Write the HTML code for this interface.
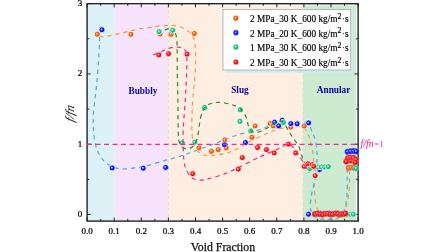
<!DOCTYPE html><html><head><meta charset="utf-8"><style>html,body{margin:0;padding:0;background:#fff;width:448px;height:252px;overflow:hidden}svg{display:block}</style></head><body><svg width="448" height="252" viewBox="0 0 448 252"><defs><radialGradient id="go" cx="0.5" cy="0.5" r="0.5" fx="0.4" fy="0.4"><stop offset="0" stop-color="#ffffff"/><stop offset="0.14" stop-color="#ffc8a0"/><stop offset="0.42" stop-color="#f46414"/><stop offset="1" stop-color="#dc4c00"/></radialGradient><radialGradient id="gb" cx="0.5" cy="0.5" r="0.5" fx="0.4" fy="0.4"><stop offset="0" stop-color="#ffffff"/><stop offset="0.14" stop-color="#b0b8ff"/><stop offset="0.42" stop-color="#1424ff"/><stop offset="1" stop-color="#0000d0"/></radialGradient><radialGradient id="gg" cx="0.5" cy="0.5" r="0.5" fx="0.4" fy="0.4"><stop offset="0" stop-color="#ffffff"/><stop offset="0.14" stop-color="#b8f4dc"/><stop offset="0.42" stop-color="#20d08c"/><stop offset="1" stop-color="#08a464"/></radialGradient><radialGradient id="gr" cx="0.5" cy="0.5" r="0.5" fx="0.4" fy="0.4"><stop offset="0" stop-color="#ffffff"/><stop offset="0.14" stop-color="#ffb0b0"/><stop offset="0.42" stop-color="#ff1414"/><stop offset="1" stop-color="#dc0000"/></radialGradient></defs><rect width="448" height="252" fill="#ffffff"/><rect x="87.1" y="5.3" width="27.1" height="215.8" fill="#ddf2f6"/><rect x="114.2" y="5.3" width="54.2" height="215.8" fill="#f7e4fc"/><rect x="168.4" y="5.3" width="134.7" height="215.8" fill="#feeee1"/><rect x="303.1" y="5.3" width="53" height="215.8" fill="#cdebd0"/><path d="M168.4 3.7 V221.1 M303.1 3.7 V221.1" stroke="#c2d6b4" stroke-opacity="0.7" stroke-width="0.8" stroke-dasharray="3.5 2.5"/><text x="128.5" y="93.5" font-family="Liberation Serif, serif" font-weight="bold" font-size="9.3" fill="#06069a">Bubbly</text><text x="231.2" y="93.0" font-family="Liberation Serif, serif" font-weight="bold" font-size="9.3" fill="#06069a">Slug</text><text x="316.8" y="92.8" font-family="Liberation Serif, serif" font-weight="bold" font-size="9.3" fill="#06069a">Annular</text><path d="M87.1 221.1 v-3.6 M87.1 3.7 v3.6 M100.65 221.1 v-2.2 M100.65 3.7 v2.2 M114.2 221.1 v-3.6 M114.2 3.7 v3.6 M127.75 221.1 v-2.2 M127.75 3.7 v2.2 M141.3 221.1 v-3.6 M141.3 3.7 v3.6 M154.85 221.1 v-2.2 M154.85 3.7 v2.2 M168.4 221.1 v-3.6 M168.4 3.7 v3.6 M181.95 221.1 v-2.2 M181.95 3.7 v2.2 M195.5 221.1 v-3.6 M195.5 3.7 v3.6 M209.05 221.1 v-2.2 M209.05 3.7 v2.2 M222.6 221.1 v-3.6 M222.6 3.7 v3.6 M236.15 221.1 v-2.2 M236.15 3.7 v2.2 M249.7 221.1 v-3.6 M249.7 3.7 v3.6 M263.25 221.1 v-2.2 M263.25 3.7 v2.2 M276.8 221.1 v-3.6 M276.8 3.7 v3.6 M290.35 221.1 v-2.2 M290.35 3.7 v2.2 M303.9 221.1 v-3.6 M303.9 3.7 v3.6 M317.45 221.1 v-2.2 M317.45 3.7 v2.2 M331 221.1 v-3.6 M331 3.7 v3.6 M344.55 221.1 v-2.2 M344.55 3.7 v2.2 M358.1 221.1 v-3.6 M358.1 3.7 v3.6 M87.1 214.45 h3.6 M358.1 214.45 h-3.6 M87.1 179.32 h2.2 M358.1 179.32 h-2.2 M87.1 144.2 h3.6 M358.1 144.2 h-3.6 M87.1 109.07 h2.2 M358.1 109.07 h-2.2 M87.1 73.95 h3.6 M358.1 73.95 h-3.6 M87.1 38.82 h2.2 M358.1 38.82 h-2.2 M87.1 3.7 h3.6 M358.1 3.7 h-3.6" stroke="#222" stroke-width="1" fill="none"/><rect x="87.1" y="3.7" width="271" height="217.4" fill="none" stroke="#222" stroke-width="1.4"/><path d="M99 37 C100.33 36.87 104.28 36.62 107 36.2 C109.72 35.78 112.52 35.1 115.3 34.5 C118.08 33.9 120.82 33.28 123.7 32.6 C126.58 31.92 129.83 31.05 132.6 30.4 C135.37 29.75 137.61 29.17 140.3 28.7 C142.99 28.23 146 28 148.75 27.6 C151.5 27.2 153.98 26.67 156.8 26.3 C159.62 25.93 162.93 25.55 165.7 25.4 C168.47 25.25 170.72 25.05 173.4 25.4 C176.08 25.75 179.22 26.47 181.8 27.5 C184.38 28.53 187 30.02 188.9 31.6 C190.8 33.18 192.15 34.43 193.2 37 C194.25 39.57 194.8 42.83 195.2 47 C195.6 51.17 195.7 56.5 195.6 62 C195.5 67.5 195.07 73.67 194.6 80 C194.13 86.33 193.27 92.5 192.8 100 C192.33 107.5 191.77 118.17 191.8 125 C191.83 131.83 191.97 136.58 193 141 C194.03 145.42 195.83 149.08 198 151.5 C200.17 153.92 202.87 154.92 206 155.5 C209.13 156.08 212.53 155.68 216.8 155 C221.07 154.32 226 153.69 231.6 151.4 C237.2 149.11 243.72 144.58 250.4 141.25 C257.08 137.92 266.43 133.56 271.7 131.4 C276.97 129.24 278.45 129.07 282 128.3 C285.55 127.53 289.42 126.93 293 126.8 C296.58 126.67 300.85 125.9 303.5 127.5 C306.15 129.1 307.4 132.53 308.9 136.4 C310.4 140.27 311.65 145.93 312.5 150.7 C313.35 155.47 313.7 159.12 314 165 C314.3 170.88 314 179.67 314.3 186 C314.6 192.33 314.93 198.5 315.8 203 C316.67 207.5 317.3 210.25 319.5 213 C321.7 215.75 325.92 218.67 329 219.5 C332.08 220.33 335.25 219.92 338 218 C340.75 216.08 343.67 212.33 345.5 208 C347.33 203.67 348.33 197.33 349 192 C349.67 186.67 349.5 180 349.5 176 C349.5 172 349.08 169.33 349 168" stroke="#f3984a" fill="none" stroke-width="1.2" stroke-dasharray="4.3 3.9"/><path d="M99.6 36.9 C99.47 40.38 99.3 49.78 98.8 57.8 C98.3 65.82 97.47 75.97 96.6 85 C95.73 94.03 94.15 104.83 93.6 112 C93.05 119.17 93.03 122.75 93.3 128 C93.57 133.25 94.2 139.08 95.2 143.5 C96.2 147.92 97.33 151.15 99.3 154.5 C101.27 157.85 103.43 161.22 107 163.6 C110.57 165.98 114.72 168.3 120.7 168.8 C126.68 169.3 135.52 168 142.9 166.6 C150.28 165.2 158.82 162.12 165 160.4 C171.18 158.68 174.98 157.87 180 156.3 C185.02 154.73 189.27 153.13 195.1 151 C200.93 148.87 207.85 146.2 215 143.5 C222.15 140.8 230.13 137.22 238 134.8 C245.87 132.38 256.58 130.75 262.2 129 C267.82 127.25 267.07 125.33 271.7 124.3 C276.33 123.27 284.78 123.13 290 122.8 C295.22 122.47 299.75 121.77 303 122.3 C306.25 122.83 307.92 124.23 309.5 126 C311.08 127.77 311.47 130.27 312.5 132.9 C313.53 135.53 314.95 137.49 315.7 141.8 C316.45 146.11 317.23 152.08 317 158.75 C316.77 165.42 315.3 175.26 314.3 181.8 C313.3 188.34 311.58 193.13 311 198 C310.42 202.87 309.97 207.75 310.8 211 C311.63 214.25 313.47 216.13 316 217.5 C318.53 218.87 322.5 219.12 326 219.2 C329.5 219.28 334 219.37 337 218 C340 216.63 342.33 214.83 344 211 C345.67 207.17 346.47 201 347 195 C347.53 189 347.2 181.17 347.2 175 C347.2 168.83 347.03 161.83 347 158 C346.97 154.17 347 153 347 152" stroke="#48aaee" fill="none" stroke-width="1.2" stroke-dasharray="4.3 3.9"/><circle cx="97.3" cy="34.2" r="2.95" fill="url(#go)" stroke="#ffffff" stroke-opacity="0.95" stroke-width="0.8"/><circle cx="131" cy="34.3" r="2.95" fill="url(#go)" stroke="#ffffff" stroke-opacity="0.95" stroke-width="0.8"/><circle cx="160.1" cy="34" r="2.95" fill="url(#go)" stroke="#ffffff" stroke-opacity="0.95" stroke-width="0.8"/><circle cx="171" cy="34.3" r="2.95" fill="url(#go)" stroke="#ffffff" stroke-opacity="0.95" stroke-width="0.8"/><circle cx="194.3" cy="33.5" r="2.95" fill="url(#go)" stroke="#ffffff" stroke-opacity="0.95" stroke-width="0.8"/><circle cx="198.9" cy="147.9" r="2.95" fill="url(#go)" stroke="#ffffff" stroke-opacity="0.95" stroke-width="0.8"/><circle cx="211.4" cy="151.4" r="2.95" fill="url(#go)" stroke="#ffffff" stroke-opacity="0.95" stroke-width="0.8"/><circle cx="218.2" cy="149.6" r="2.95" fill="url(#go)" stroke="#ffffff" stroke-opacity="0.95" stroke-width="0.8"/><circle cx="224.8" cy="140" r="2.95" fill="url(#go)" stroke="#ffffff" stroke-opacity="0.95" stroke-width="0.8"/><circle cx="226.2" cy="147.9" r="2.95" fill="url(#go)" stroke="#ffffff" stroke-opacity="0.95" stroke-width="0.8"/><circle cx="251.9" cy="137.3" r="2.95" fill="url(#go)" stroke="#ffffff" stroke-opacity="0.95" stroke-width="0.8"/><circle cx="255.1" cy="125.9" r="2.95" fill="url(#go)" stroke="#ffffff" stroke-opacity="0.95" stroke-width="0.8"/><circle cx="270.2" cy="123.5" r="2.95" fill="url(#go)" stroke="#ffffff" stroke-opacity="0.95" stroke-width="0.8"/><circle cx="273.3" cy="125.9" r="2.95" fill="url(#go)" stroke="#ffffff" stroke-opacity="0.95" stroke-width="0.8"/><circle cx="290.8" cy="127.1" r="2.95" fill="url(#go)" stroke="#ffffff" stroke-opacity="0.95" stroke-width="0.8"/><circle cx="304.3" cy="125.9" r="2.95" fill="url(#go)" stroke="#ffffff" stroke-opacity="0.95" stroke-width="0.8"/><circle cx="101.9" cy="29.7" r="2.95" fill="url(#gb)" stroke="#ffffff" stroke-opacity="0.95" stroke-width="0.8"/><circle cx="112.2" cy="167.9" r="2.95" fill="url(#gb)" stroke="#ffffff" stroke-opacity="0.95" stroke-width="0.8"/><circle cx="143.2" cy="168.2" r="2.95" fill="url(#gb)" stroke="#ffffff" stroke-opacity="0.95" stroke-width="0.8"/><circle cx="165.7" cy="167.4" r="2.95" fill="url(#gb)" stroke="#ffffff" stroke-opacity="0.95" stroke-width="0.8"/><circle cx="224.5" cy="144.8" r="2.95" fill="url(#gb)" stroke="#ffffff" stroke-opacity="0.95" stroke-width="0.8"/><circle cx="245.5" cy="142.6" r="2.95" fill="url(#gb)" stroke="#ffffff" stroke-opacity="0.95" stroke-width="0.8"/><circle cx="274.6" cy="122.2" r="2.95" fill="url(#gb)" stroke="#ffffff" stroke-opacity="0.95" stroke-width="0.8"/><circle cx="278.7" cy="125.9" r="2.95" fill="url(#gb)" stroke="#ffffff" stroke-opacity="0.95" stroke-width="0.8"/><circle cx="290.9" cy="123.6" r="2.95" fill="url(#gb)" stroke="#ffffff" stroke-opacity="0.95" stroke-width="0.8"/><circle cx="297.1" cy="123.8" r="2.95" fill="url(#gb)" stroke="#ffffff" stroke-opacity="0.95" stroke-width="0.8"/><circle cx="308.6" cy="122.9" r="2.95" fill="url(#gb)" stroke="#ffffff" stroke-opacity="0.95" stroke-width="0.8"/><circle cx="308.5" cy="214.2" r="2.95" fill="url(#gb)" stroke="#ffffff" stroke-opacity="0.95" stroke-width="0.8"/><circle cx="282.2" cy="120.2" r="2.95" fill="url(#gb)" stroke="#ffffff" stroke-opacity="0.95" stroke-width="0.8"/><circle cx="319.6" cy="169.6" r="2.95" fill="url(#gb)" stroke="#ffffff" stroke-opacity="0.95" stroke-width="0.8"/><circle cx="320.5" cy="213.3" r="2.95" fill="url(#gb)" stroke="#ffffff" stroke-opacity="0.95" stroke-width="0.8"/><circle cx="329.5" cy="213.3" r="2.95" fill="url(#gb)" stroke="#ffffff" stroke-opacity="0.95" stroke-width="0.8"/><circle cx="337.5" cy="213.3" r="2.95" fill="url(#gb)" stroke="#ffffff" stroke-opacity="0.95" stroke-width="0.8"/><circle cx="159.1" cy="31.7" r="2.95" fill="url(#gg)" stroke="#ffffff" stroke-opacity="0.95" stroke-width="0.8"/><circle cx="172.7" cy="30.2" r="2.95" fill="url(#gg)" stroke="#ffffff" stroke-opacity="0.95" stroke-width="0.8"/><circle cx="182.3" cy="142.9" r="2.95" fill="url(#gg)" stroke="#ffffff" stroke-opacity="0.95" stroke-width="0.8"/><circle cx="194.8" cy="142.1" r="2.95" fill="url(#gg)" stroke="#ffffff" stroke-opacity="0.95" stroke-width="0.8"/><circle cx="204.6" cy="107.5" r="2.95" fill="url(#gg)" stroke="#ffffff" stroke-opacity="0.95" stroke-width="0.8"/><circle cx="240.2" cy="109.7" r="2.95" fill="url(#gg)" stroke="#ffffff" stroke-opacity="0.95" stroke-width="0.8"/><circle cx="240" cy="121.3" r="2.95" fill="url(#gg)" stroke="#ffffff" stroke-opacity="0.95" stroke-width="0.8"/><circle cx="250.7" cy="130.9" r="2.95" fill="url(#gg)" stroke="#ffffff" stroke-opacity="0.95" stroke-width="0.8"/><circle cx="283.4" cy="122.4" r="2.95" fill="url(#gg)" stroke="#ffffff" stroke-opacity="0.95" stroke-width="0.8"/><circle cx="309.8" cy="168.8" r="2.95" fill="url(#gg)" stroke="#ffffff" stroke-opacity="0.95" stroke-width="0.8"/><circle cx="317.5" cy="167" r="2.95" fill="url(#gg)" stroke="#ffffff" stroke-opacity="0.95" stroke-width="0.8"/><circle cx="321.2" cy="167" r="2.95" fill="url(#gg)" stroke="#ffffff" stroke-opacity="0.95" stroke-width="0.8"/><circle cx="324.6" cy="167" r="2.95" fill="url(#gg)" stroke="#ffffff" stroke-opacity="0.95" stroke-width="0.8"/><circle cx="328.3" cy="166.7" r="2.95" fill="url(#gg)" stroke="#ffffff" stroke-opacity="0.95" stroke-width="0.8"/><circle cx="347.6" cy="214.2" r="2.95" fill="url(#gg)" stroke="#ffffff" stroke-opacity="0.95" stroke-width="0.8"/><circle cx="350.5" cy="214.2" r="2.95" fill="url(#gg)" stroke="#ffffff" stroke-opacity="0.95" stroke-width="0.8"/><circle cx="353.3" cy="214.2" r="2.95" fill="url(#gg)" stroke="#ffffff" stroke-opacity="0.95" stroke-width="0.8"/><path d="M175.4 33.2 C175.6 33.92 176.32 35.37 176.6 37.5 C176.88 39.63 176.98 40.58 177.1 46 C177.22 51.42 177.17 61 177.3 70 C177.43 79 177.72 89.17 177.9 100 C178.08 110.83 177.93 127.42 178.4 135 C178.87 142.58 179.37 143.21 180.7 145.5 C182.03 147.79 184.4 148.58 186.4 148.75 C188.4 148.92 190.85 148.46 192.7 146.5 C194.55 144.54 196.2 141.75 197.5 137 C198.8 132.25 199.32 122.92 200.5 118 C201.68 113.08 202.85 109.9 204.6 107.5 C206.35 105.1 208.6 104.45 211 103.6 C213.4 102.75 215.67 102.27 219 102.4 C222.33 102.53 227.42 103.3 231 104.4 C234.58 105.5 238 106.9 240.5 109 C243 111.1 244.67 114.17 246 117 C247.33 119.83 247.5 123.58 248.5 126 C249.5 128.42 250.42 130.47 252 131.5 C253.58 132.53 255.5 132.73 258 132.2 C260.5 131.67 263.92 129.88 267 128.3 C270.08 126.72 273.85 123.77 276.5 122.7 C279.15 121.63 280.78 120.32 282.9 121.9 C285.02 123.48 287.22 129.15 289.2 132.2 C291.18 135.25 293.08 137.55 294.8 140.2 C296.52 142.85 298.22 145.13 299.5 148.1 C300.78 151.07 301.5 155.18 302.5 158 C303.5 160.82 304.25 163.17 305.5 165 C306.75 166.83 309.25 168.33 310 169" stroke="#228e30" fill="none" stroke-width="1.2" stroke-dasharray="4.3 3.9"/><path d="M164.8 30.1 L168.7 28.4" stroke="#228e30" stroke-width="1.2"/><circle cx="158.9" cy="54.9" r="2.95" fill="url(#gr)" stroke="#ffffff" stroke-opacity="0.95" stroke-width="0.8"/><circle cx="168.5" cy="53.7" r="2.95" fill="url(#gr)" stroke="#ffffff" stroke-opacity="0.95" stroke-width="0.8"/><circle cx="187.1" cy="54.1" r="2.95" fill="url(#gr)" stroke="#ffffff" stroke-opacity="0.95" stroke-width="0.8"/><circle cx="192.7" cy="173.7" r="2.95" fill="url(#gr)" stroke="#ffffff" stroke-opacity="0.95" stroke-width="0.8"/><circle cx="238.3" cy="169.1" r="2.95" fill="url(#gr)" stroke="#ffffff" stroke-opacity="0.95" stroke-width="0.8"/><circle cx="242.3" cy="157.6" r="2.95" fill="url(#gr)" stroke="#ffffff" stroke-opacity="0.95" stroke-width="0.8"/><circle cx="257.5" cy="147.5" r="2.95" fill="url(#gr)" stroke="#ffffff" stroke-opacity="0.95" stroke-width="0.8"/><circle cx="266.4" cy="149.6" r="2.95" fill="url(#gr)" stroke="#ffffff" stroke-opacity="0.95" stroke-width="0.8"/><circle cx="274.1" cy="152.9" r="2.95" fill="url(#gr)" stroke="#ffffff" stroke-opacity="0.95" stroke-width="0.8"/><circle cx="288.4" cy="144.1" r="2.95" fill="url(#gr)" stroke="#ffffff" stroke-opacity="0.95" stroke-width="0.8"/><circle cx="295.7" cy="152.9" r="2.95" fill="url(#gr)" stroke="#ffffff" stroke-opacity="0.95" stroke-width="0.8"/><circle cx="304.2" cy="166.4" r="2.95" fill="url(#gr)" stroke="#ffffff" stroke-opacity="0.95" stroke-width="0.8"/><circle cx="307.9" cy="163.8" r="2.95" fill="url(#gr)" stroke="#ffffff" stroke-opacity="0.95" stroke-width="0.8"/><circle cx="312.3" cy="164.6" r="2.95" fill="url(#gr)" stroke="#ffffff" stroke-opacity="0.95" stroke-width="0.8"/><circle cx="313.8" cy="166.4" r="2.95" fill="url(#gr)" stroke="#ffffff" stroke-opacity="0.95" stroke-width="0.8"/><circle cx="315.2" cy="175.6" r="2.95" fill="url(#gr)" stroke="#ffffff" stroke-opacity="0.95" stroke-width="0.8"/><circle cx="314.9" cy="214" r="2.95" fill="url(#gr)" stroke="#ffffff" stroke-opacity="0.95" stroke-width="0.25"/><circle cx="317.43" cy="213.5" r="2.95" fill="url(#gr)" stroke="#ffffff" stroke-opacity="0.95" stroke-width="0.25"/><circle cx="319.96" cy="214.13" r="2.95" fill="url(#gr)" stroke="#ffffff" stroke-opacity="0.95" stroke-width="0.25"/><circle cx="322.49" cy="214.46" r="2.95" fill="url(#gr)" stroke="#ffffff" stroke-opacity="0.95" stroke-width="0.25"/><circle cx="325.02" cy="213.75" r="2.95" fill="url(#gr)" stroke="#ffffff" stroke-opacity="0.95" stroke-width="0.25"/><circle cx="327.55" cy="213.6" r="2.95" fill="url(#gr)" stroke="#ffffff" stroke-opacity="0.95" stroke-width="0.25"/><circle cx="330.08" cy="214.35" r="2.95" fill="url(#gr)" stroke="#ffffff" stroke-opacity="0.95" stroke-width="0.25"/><circle cx="332.61" cy="214.31" r="2.95" fill="url(#gr)" stroke="#ffffff" stroke-opacity="0.95" stroke-width="0.25"/><circle cx="335.14" cy="213.57" r="2.95" fill="url(#gr)" stroke="#ffffff" stroke-opacity="0.95" stroke-width="0.25"/><circle cx="337.67" cy="213.8" r="2.95" fill="url(#gr)" stroke="#ffffff" stroke-opacity="0.95" stroke-width="0.25"/><circle cx="340.2" cy="214.48" r="2.95" fill="url(#gr)" stroke="#ffffff" stroke-opacity="0.95" stroke-width="0.25"/><circle cx="342.73" cy="214.07" r="2.95" fill="url(#gr)" stroke="#ffffff" stroke-opacity="0.95" stroke-width="0.25"/><circle cx="345.26" cy="213.5" r="2.95" fill="url(#gr)" stroke="#ffffff" stroke-opacity="0.95" stroke-width="0.25"/><circle cx="348.6" cy="168" r="2.95" fill="url(#go)" stroke="#ffffff" stroke-opacity="0.95" stroke-width="0.3"/><circle cx="351.4" cy="167.6" r="2.95" fill="url(#go)" stroke="#ffffff" stroke-opacity="0.95" stroke-width="0.3"/><circle cx="353.8" cy="167.8" r="2.95" fill="url(#go)" stroke="#ffffff" stroke-opacity="0.95" stroke-width="0.3"/><circle cx="356" cy="168.2" r="2.95" fill="url(#gg)" stroke="#ffffff" stroke-opacity="0.95" stroke-width="0.3"/><circle cx="347.6" cy="151.8" r="2.95" fill="url(#gb)" stroke="#ffffff" stroke-opacity="0.95" stroke-width="0.3"/><circle cx="350.6" cy="151.2" r="2.95" fill="url(#gb)" stroke="#ffffff" stroke-opacity="0.95" stroke-width="0.3"/><circle cx="353.6" cy="151" r="2.95" fill="url(#gb)" stroke="#ffffff" stroke-opacity="0.95" stroke-width="0.3"/><circle cx="356.2" cy="151.5" r="2.95" fill="url(#gb)" stroke="#ffffff" stroke-opacity="0.95" stroke-width="0.3"/><circle cx="350.5" cy="160.5" r="2.95" fill="url(#gr)" stroke="#ffffff" stroke-opacity="0.95" stroke-width="0.3"/><circle cx="346.2" cy="161.5" r="2.95" fill="url(#gr)" stroke="#ffffff" stroke-opacity="0.95" stroke-width="0.3"/><circle cx="347.8" cy="158.2" r="2.95" fill="url(#gr)" stroke="#ffffff" stroke-opacity="0.95" stroke-width="0.3"/><circle cx="350.6" cy="157.4" r="2.95" fill="url(#gr)" stroke="#ffffff" stroke-opacity="0.95" stroke-width="0.3"/><circle cx="353.4" cy="157.8" r="2.95" fill="url(#gr)" stroke="#ffffff" stroke-opacity="0.95" stroke-width="0.3"/><circle cx="355.6" cy="159.5" r="2.95" fill="url(#gr)" stroke="#ffffff" stroke-opacity="0.95" stroke-width="0.3"/><circle cx="355.2" cy="162.2" r="2.95" fill="url(#gr)" stroke="#ffffff" stroke-opacity="0.95" stroke-width="0.3"/><path d="M153.3 54.9 C154.73 54.3 158.88 52.5 161.9 51.3 C164.92 50.1 168.62 48.4 171.4 47.7 C174.18 47 176.67 46.97 178.6 47.1 C180.53 47.23 181.72 47.6 183 48.5 C184.28 49.4 185.65 50.25 186.3 52.5 C186.95 54.75 186.87 58.08 186.9 62 C186.93 65.92 186.77 69.67 186.5 76 C186.23 82.33 185.85 91 185.3 100 C184.75 109 183.52 121.33 183.2 130 C182.88 138.67 183.1 146 183.4 152 C183.7 158 183.72 161.82 185 166 C186.28 170.18 188.58 174.75 191.1 177.1 C193.62 179.45 197.1 179.85 200.1 180.1 C203.1 180.35 204.92 179.68 209.1 178.6 C213.28 177.52 220.17 175.52 225.2 173.6 C230.23 171.68 234.28 169.53 239.3 167.1 C244.32 164.67 251.02 161.1 255.3 159 C259.58 156.9 261.22 156.17 265 154.5 C268.78 152.83 274.1 150.67 278 149 C281.9 147.33 285.48 144.33 288.4 144.5 C291.32 144.67 293.48 147.75 295.5 150 C297.52 152.25 298.83 155.25 300.5 158 C302.17 160.75 304.08 164.02 305.5 166.5 C306.92 168.98 308.42 171.83 309 172.9" stroke="#ec2c8a" fill="none" stroke-width="1.2" stroke-dasharray="4.3 3.9"/><line x1="87.1" y1="144.3" x2="358.1" y2="144.3" stroke="#e8308a" stroke-width="1.25" stroke-dasharray="4.9 3.6" stroke-dashoffset="0"/><rect x="226" y="12.5" width="127.6" height="60.3" fill="#cdebf1"/><rect x="223" y="9.5" width="127.7" height="60.5" fill="#ffffff" stroke="#a8a8a8" stroke-width="0.8"/><circle cx="235.9" cy="18.2" r="2.85" fill="url(#go)" stroke="#ffffff" stroke-opacity="0.9" stroke-width="0.6"/><text x="250" y="22.3" font-family="Liberation Serif, serif" font-size="9.3" fill="#000" stroke="#000" stroke-width="0.15">2 MPa_30 K_600 kg/m<tspan dy="-3.4" font-size="7.8">2</tspan><tspan dy="3.4" dx="0.3" stroke-width="0">·</tspan><tspan dx="0.2">s</tspan></text><circle cx="235.9" cy="32.7" r="2.85" fill="url(#gb)" stroke="#ffffff" stroke-opacity="0.9" stroke-width="0.6"/><text x="250" y="36.8" font-family="Liberation Serif, serif" font-size="9.3" fill="#000" stroke="#000" stroke-width="0.15">2 MPa_20 K_600 kg/m<tspan dy="-3.4" font-size="7.8">2</tspan><tspan dy="3.4" dx="0.3" stroke-width="0">·</tspan><tspan dx="0.2">s</tspan></text><circle cx="235.9" cy="47.1" r="2.85" fill="url(#gg)" stroke="#ffffff" stroke-opacity="0.9" stroke-width="0.6"/><text x="250" y="51.2" font-family="Liberation Serif, serif" font-size="9.3" fill="#000" stroke="#000" stroke-width="0.15">1 MPa_30 K_600 kg/m<tspan dy="-3.4" font-size="7.8">2</tspan><tspan dy="3.4" dx="0.3" stroke-width="0">·</tspan><tspan dx="0.2">s</tspan></text><circle cx="235.9" cy="62" r="2.85" fill="url(#gr)" stroke="#ffffff" stroke-opacity="0.9" stroke-width="0.6"/><text x="250" y="66.1" font-family="Liberation Serif, serif" font-size="9.3" fill="#000" stroke="#000" stroke-width="0.15">2 MPa_30 K_300 kg/m<tspan dy="-3.4" font-size="7.8">2</tspan><tspan dy="3.4" dx="0.3" stroke-width="0">·</tspan><tspan dx="0.2">s</tspan></text><text x="87.1" y="233.7" text-anchor="middle" font-family="Liberation Serif, serif" font-size="9" fill="#000" stroke="#000" stroke-width="0.24">0.0</text><text x="114.2" y="233.7" text-anchor="middle" font-family="Liberation Serif, serif" font-size="9" fill="#000" stroke="#000" stroke-width="0.24">0.1</text><text x="141.3" y="233.7" text-anchor="middle" font-family="Liberation Serif, serif" font-size="9" fill="#000" stroke="#000" stroke-width="0.24">0.2</text><text x="168.4" y="233.7" text-anchor="middle" font-family="Liberation Serif, serif" font-size="9" fill="#000" stroke="#000" stroke-width="0.24">0.3</text><text x="195.5" y="233.7" text-anchor="middle" font-family="Liberation Serif, serif" font-size="9" fill="#000" stroke="#000" stroke-width="0.24">0.4</text><text x="222.6" y="233.7" text-anchor="middle" font-family="Liberation Serif, serif" font-size="9" fill="#000" stroke="#000" stroke-width="0.24">0.5</text><text x="249.7" y="233.7" text-anchor="middle" font-family="Liberation Serif, serif" font-size="9" fill="#000" stroke="#000" stroke-width="0.24">0.6</text><text x="276.8" y="233.7" text-anchor="middle" font-family="Liberation Serif, serif" font-size="9" fill="#000" stroke="#000" stroke-width="0.24">0.7</text><text x="303.9" y="233.7" text-anchor="middle" font-family="Liberation Serif, serif" font-size="9" fill="#000" stroke="#000" stroke-width="0.24">0.8</text><text x="331" y="233.7" text-anchor="middle" font-family="Liberation Serif, serif" font-size="9" fill="#000" stroke="#000" stroke-width="0.24">0.9</text><text x="358.1" y="233.7" text-anchor="middle" font-family="Liberation Serif, serif" font-size="9" fill="#000" stroke="#000" stroke-width="0.24">1.0</text><text x="82.2" y="216.85" text-anchor="end" font-family="Liberation Serif, serif" font-size="9" fill="#000" stroke="#000" stroke-width="0.24">0</text><text x="82.2" y="146.6" text-anchor="end" font-family="Liberation Serif, serif" font-size="9" fill="#000" stroke="#000" stroke-width="0.24">1</text><text x="82.2" y="76.35" text-anchor="end" font-family="Liberation Serif, serif" font-size="9" fill="#000" stroke="#000" stroke-width="0.24">2</text><text x="82.2" y="6.1" text-anchor="end" font-family="Liberation Serif, serif" font-size="9" fill="#000" stroke="#000" stroke-width="0.24">3</text><text x="223" y="251.1" text-anchor="middle" font-family="Liberation Serif, serif" font-size="11.8" fill="#111" stroke="#111" stroke-width="0.25">Void Fraction</text><text transform="translate(74.3 114.3) rotate(-90) skewX(-14)" text-anchor="middle" font-family="Liberation Serif, serif" font-style="italic" font-size="12.4" fill="#1a1a1a" stroke="#1a1a1a" stroke-width="0.08">f/fn</text><text x="360.6" y="147.4" font-family="Liberation Serif, serif" font-size="8.8" fill="#ec3a94"><tspan font-style="italic" font-size="9.8" stroke="#ec3a94" stroke-width="0.15">f/fn</tspan><tspan dx="0.6">=1</tspan></text></svg></body></html>
